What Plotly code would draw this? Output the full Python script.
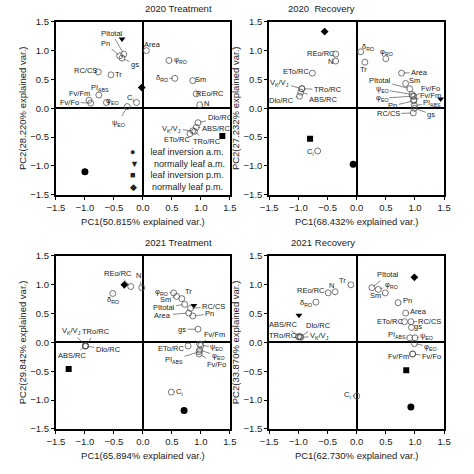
import plotly.graph_objects as go

# ---------------- data ----------------
titles = ["2020 Treatment", "2020  Recovery", "2021 Treatment", "2021 Recovery"]
x_titles = ["PC1(50.815% explained var.)", "PC1(68.432% explained var.)",
            "PC1(65.894% explained var.)", "PC1(62.730% explained var.)"]
y_titles = ["PC2(28.220% explained var.)", "PC2(27.232% explained var.)",
            "PC2(29.842% explained var.)", "PC2(33.870% explained var.)"]
tick_vals = [-1.5, -1.0, -0.5, 0.0, 0.5, 1.0, 1.5]

sample_names = ["leaf inversion a.m.", "normally leaf a.m.", "leaf inversion p.m.", "normally leaf p.m."]
sample_symbols = ["circle", "triangle-down", "square", "diamond"]
sample_glyphs = ["●", "▼", "■", "◆"]

# variable loadings per panel: (label, PC1, PC2)
vars_p1 = [("PItotal", -0.33, 0.94), ("Pn", -0.40, 0.91), ("gs", -0.36, 0.87), ("Area", 0.06, 1.00),
           ("φ<sub>RO</sub>", 0.45, 0.83), ("δ<sub>RO</sub>", 0.55, 0.52), ("Sm", 0.86, 0.48),
           ("REo/RC", 0.92, 0.25), ("N", 0.98, 0.06), ("RC/CS", -0.77, 0.63), ("Tr", -0.55, 0.58),
           ("PI<sub>ABS</sub>", -0.76, 0.23), ("Fv/Fm", -0.93, 0.14), ("Fv/Fo", -0.90, 0.09),
           ("φ<sub>EO</sub>", -0.63, 0.10), ("C<sub>i</sub>", -0.11, 0.10), ("ψ<sub>EO</sub>", -0.27, 0.03),
           ("Dlo/RC", 0.95, -0.25), ("ABS/RC", 0.92, -0.33), ("V<sub>K</sub>/V<sub>J</sub>", 0.86, -0.39),
           ("ETo/RC", 0.81, -0.44), ("TRo/RC", 0.89, -0.40)]
vars_p2 = [("REo/RC", -0.36, 0.94), ("N", -0.36, 0.82), ("ETo/RC", -0.76, 0.61),
           ("V<sub>K</sub>/V<sub>J</sub>", -0.94, 0.34), ("TRo/RC", -0.94, 0.34), ("ABS/RC", -0.96, 0.28),
           ("Dlo/RC", -0.98, 0.21), ("δ<sub>RO</sub>", 0.07, 0.98), ("φ<sub>RO</sub>", 0.50, 0.86),
           ("Tr", 0.14, 0.80), ("Area", 0.77, 0.61), ("Sm", 0.84, 0.43), ("PItotal", 0.91, 0.34),
           ("ψ<sub>EO</sub>", 0.95, 0.24), ("φ<sub>EO</sub>", 0.96, 0.21), ("Pn", 0.98, 0.13),
           ("Fv/Fo", 0.98, 0.21), ("Fv/Fm", 0.98, 0.15), ("PI<sub>ABS</sub>", 0.99, 0.05),
           ("gs", 0.99, 0.00), ("RC/CS", 0.97, -0.08), ("C<sub>i</sub>", -0.67, -0.74)]
vars_p3 = [("REo/RC", -0.21, 0.97), ("N", -0.02, 0.95), ("δ<sub>RO</sub>", -0.52, 0.85),
           ("φ<sub>RO</sub>", 0.53, 0.86), ("Sm", 0.58, 0.80), ("Tr", 0.67, 0.76), ("PItotal", 0.72, 0.66),
           ("RC/CS", 0.82, 0.59), ("Area", 0.79, 0.51), ("Pn", 0.86, 0.46), ("gs", 0.95, 0.23),
           ("Fv/Fm", 0.98, -0.03), ("ψ<sub>EO</sub>", 1.00, -0.05), ("φ<sub>EO</sub>", 0.98, -0.13),
           ("Fv/Fo", 0.97, -0.20), ("PI<sub>ABS</sub>", 0.97, -0.16), ("ETo/RC", 0.78, -0.06),
           ("V<sub>K</sub>/V<sub>J</sub>", -0.99, -0.06), ("TRo/RC", -0.99, -0.06), ("Dlo/RC", -0.99, -0.06),
           ("ABS/RC", -0.99, -0.06), ("C<sub>i</sub>", 0.49, -0.86)]
vars_p4 = [("PItotal", 0.26, 0.95), ("φ<sub>RO</sub>", 0.37, 0.92), ("Sm", 0.49, 0.86), ("Tr", -0.10, 1.00),
           ("N", -0.37, 0.88), ("REo/RC", -0.49, 0.86), ("δ<sub>RO</sub>", -0.70, 0.70), ("Pn", 0.71, 0.69),
           ("Area", 0.84, 0.51), ("ETo/RC", 0.82, 0.36), ("RC/CS", 0.93, 0.36), ("gs", 0.94, 0.26),
           ("PI<sub>ABS</sub>", 0.91, 0.08), ("ψ<sub>EO</sub>", 1.00, 0.08), ("φ<sub>EO</sub>", 0.99, -0.02),
           ("Fv/Fm", 0.96, -0.20), ("Fv/Fo", 0.96, -0.20), ("ABS/RC", -0.99, 0.10), ("Dlo/RC", -0.97, 0.10),
           ("TRo/RC", -1.00, 0.10), ("V<sub>K</sub>/V<sub>J</sub>", -0.96, 0.09), ("C<sub>i</sub>", 0.00, -0.93)]

# sample scores per panel, in order of sample_names
samples_x = [[-1.00, -0.36, 1.37, -0.02], [-0.06, 1.44, -0.80, -0.55],
             [0.71, 0.88, -1.28, -0.32], [0.93, -0.99, 0.85, 0.99]]
samples_y = [[-1.10, 1.20, -0.48, 0.36], [-0.97, 0.16, -0.53, 1.33],
             [-1.18, 0.64, -0.46, 1.00], [-1.12, 0.47, -0.48, 1.13]]

# ---------------- styling: label offsets (pixels) ----------------
offsets = [
    [(-12, -21), (-14, -12), (13, 6), (6, -6), (11, 0), (-13, 0), (8, -1), (14, 0), (7, -1), (-13, -1),
     (7, 0), (1, -7), (-9, -7), (-21, -1), (6, -2), (-6, -5), (-9, 16), (22, -5), (20, 1), (-21, -2),
     (-13, 6), (12, 10)],
    [(-15, -1), (-5, 0), (-16, -2), (-22, -6), (26, 1), (23, 7), (-18, 4), (7, -5), (1, -7), (-1, 7),
     (18, -1), (9, -3), (-30, -8), (-30, -5), (-31, 2), (-21, 5), (17, -8), (17, -4), (18, -2), (17, 6),
     (-25, 1), (-7, 1)],
    [(-13, -13), (-3, -12), (0, 7), (-12, -1), (-11, 3), (7, -7), (-21, 3), (23, -2), (-26, 2), (17, -2),
     (-16, 0), (15, -10), (16, 2), (18, 6), (17, 10), (-25, 8), (-17, 3), (-14, -15), (10, -14),
     (23, 4), (-13, 10), (8, 0)],
    [(16, -13), (13, -4), (-10, 3), (-8, -4), (-4, -6), (-17, -2), (-10, 1), (9, -2), (13, -2), (-14, 0),
     (19, 0), (7, -1), (-13, -3), (12, -2), (16, 3), (-14, 2), (19, 2), (-15, -12), (18, -11),
     (-15, -1), (19, -1), (-9, -1)],
]

all_vars = [vars_p1, vars_p2, vars_p3, vars_p4]
x_domains = [[0.118, 0.485], [0.568, 0.937], [0.118, 0.485], [0.568, 0.937]]
y_domains = [[0.589, 0.954], [0.589, 0.954], [0.095, 0.460], [0.095, 0.460]]
FONT = "Liberation Sans, Arial, sans-serif"

fig = go.Figure()
annotations = []
for i in range(4):
    xa = "x" if i == 0 else f"x{i+1}"
    ya = "y" if i == 0 else f"y{i+1}"
    vs = all_vars[i]
    fig.add_trace(go.Scatter(
        x=[v[1] for v in vs], y=[v[2] for v in vs], mode="markers", xaxis=xa, yaxis=ya,
        marker=dict(symbol="circle-open", size=6, color="#555", line=dict(width=0.8)),
        showlegend=False, hoverinfo="skip"))
    for k in range(4):
        fig.add_trace(go.Scatter(
            x=[samples_x[i][k]], y=[samples_y[i][k]], mode="markers", xaxis=xa, yaxis=ya,
            marker=dict(symbol=sample_symbols[k], size=6 if k else 7, color="black"),
            name=sample_names[k], showlegend=False))
    for (lab, px, py), (ox, oy) in zip(vs, offsets[i]):
        annotations.append(dict(x=px, y=py, xref=xa, yref=ya, text=lab, showarrow=True,
                                ax=ox, ay=oy, arrowhead=0, arrowwidth=0.7, arrowcolor="#555",
                                standoff=2, font=dict(size=7.5, color="#222", family=FONT)))
    xd, yd = x_domains[i], y_domains[i]
    annotations.append(dict(x=(xd[0] + xd[1]) / 2, y=yd[1] + 0.012, xref="paper", yref="paper",
                            text=titles[i], showarrow=False, yanchor="bottom",
                            font=dict(size=9.5, color="#222", family=FONT)))
    ax_common = dict(range=[-1.5, 1.5], tickvals=tick_vals, tickformat=".1f", ticks="outside",
                     ticklen=3, tickcolor="black", showgrid=False, zeroline=True, automargin=False,
                     zerolinecolor="black", zerolinewidth=2, showline=True, linecolor="black",
                     linewidth=2, mirror=True, tickfont=dict(size=9.5, color="#222", family=FONT))
    fig.layout[("xaxis" if i == 0 else f"xaxis{i+1}")] = dict(
        domain=xd, anchor=ya, title=dict(text=x_titles[i], font=dict(size=9.5, color="#222", family=FONT),
                                         standoff=6), **ax_common)
    fig.layout[("yaxis" if i == 0 else f"yaxis{i+1}")] = dict(
        domain=yd, anchor=xa, title=dict(text=y_titles[i], font=dict(size=9.5, color="#222", family=FONT),
                                         standoff=2), **ax_common)

# legend of sample types inside the first panel (text with glyphs)
legend_text = "<br>".join(f"{g}      {n}" for g, n in zip(sample_glyphs, sample_names))
annotations.append(dict(x=-0.25, y=-0.64, xref="x", yref="y", text=legend_text, showarrow=False,
                        xanchor="left", yanchor="top", align="left",
                        font=dict(size=9, color="#222", family=FONT)))

fig.update_layout(
    width=474, height=474, margin=dict(l=0, r=0, t=0, b=0), showlegend=False,
    paper_bgcolor="white", plot_bgcolor="white", annotations=annotations,
)
fig.write_html("out.html", post_script="document.body.style.margin='0';",
               config={"displayModeBar": False})
